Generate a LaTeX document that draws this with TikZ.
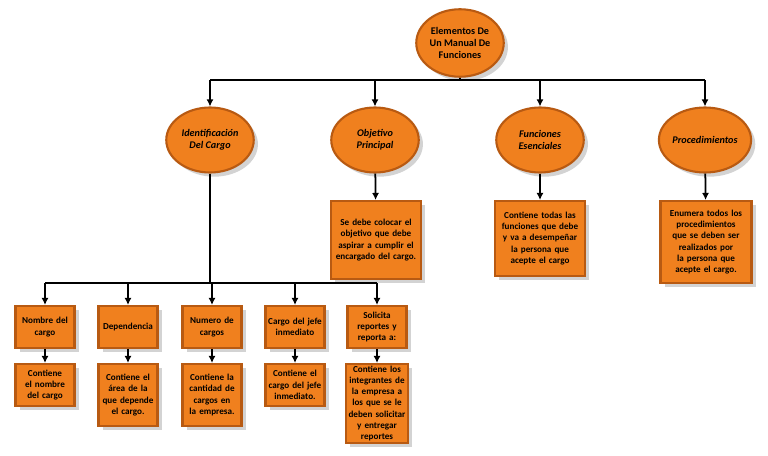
\documentclass[tikz,border=0pt]{standalone}
\usepackage{fontspec}
\setmainfont{Carlito}
\usetikzlibrary{arrows.meta,shapes.geometric,shadows}
\definecolor{naranja}{HTML}{F0801E}
\definecolor{borde}{HTML}{B85A12}
\tikzset{
  elipse/.style={ellipse,fill=naranja,draw=borde,line width=1.2pt,drop shadow={opacity=0.35},
    minimum width=1.75cm,minimum height=1.3cm,inner sep=0pt,align=center,
    font=\fontsize{5.8}{7}\selectfont\bfseries\itshape},
  caja/.style={rectangle,fill=naranja,draw=borde,line width=1.2pt,drop shadow={opacity=0.35},
    align=center,inner sep=1pt,font=\fontsize{5.2}{6.4}\selectfont\bfseries},
  flecha/.style={-{Latex[length=4pt,width=4pt]},line width=1pt},
  linea/.style={line width=1pt}
}
\begin{document}
\begin{tikzpicture}[x=0.02cm,y=-0.02cm]
  \useasboundingbox (0,0) rectangle (768,456);
  % raiz
  \node[elipse,minimum width=1.75cm,minimum height=1.35cm,font=\fontsize{5.8}{7}\selectfont\bfseries] (raiz) at (460,43) {Elementos De\\Un Manual De\\Funciones};
  % segundo nivel
  \node[elipse] (ident) at (210,140) {Identificación\\Del Cargo};
  \node[elipse] (objet) at (375,140) {Objetivo\\Principal};
  \node[elipse] (funci) at (540,140) {Funciones\\Esenciales};
  \node[elipse] (proce) at (705,140) {Procedimientos};
  \coordinate (r) at (460,80);
  \draw[linea] (raiz.south) -- (r);
  \draw[linea] (210,80) -- (705,80);
  \foreach \n in {ident,objet,funci,proce}
    \draw[flecha] (\n.north |- r) -- (\n.north);
  % cajas
  \node[caja,text width=1.72cm,minimum height=1.56cm,anchor=north] (bobj) at (376,200) {Se debe colocar el objetivo que debe aspirar a cumplir el encargado del cargo.};
  \node[caja,text width=1.72cm,minimum height=1.5cm,anchor=north] (bfun) at (540,200) {Contiene todas las funciones que debe y va a desempeñar la persona que acepte el cargo};
  \node[caja,text width=1.75cm,minimum height=1.64cm,anchor=north] (bpro) at (706,200) {Enumera todos los procedimientos que se deben ser realizados por la persona que acepte el cargo.};
  \draw[flecha] (objet) -- (bobj);
  \draw[flecha] (funci) -- (bfun);
  \draw[flecha] (proce) -- (bpro);
  % tercer nivel
  \coordinate (c) at (210,283);
  \draw[linea] (ident.south) -- (c);
  \draw[linea] (45,283) -- (377,283);
  \foreach \x/\n/\t/\h/\d in {45/nom/{Nombre del\\cargo}/0.84/{Contiene el nombre del cargo},
      128/dep/{Dependencia}/0.84/{Contiene el área de la que depende el cargo.},
      212/num/{Numero de\\cargos}/0.84/{Contiene la cantidad de cargos en la empresa.},
      295/jef/{Cargo del jefe\\inmediato}/0.84/{Contiene el cargo del jefe inmediato.},
      377/sol/{Solicita\\reportes y\\reporta a:}/0.84/{Contiene los integrantes de la empresa a los que se le deben solicitar y entregar reportes}} {
    \node[caja,minimum width=1.18cm,text width=1.1cm,minimum height=\h cm,anchor=north] (\n) at (\x,305) {\t};
    \draw[flecha] (\x,283) -- (\n.north);
  }
  \node[caja,text width=1.1cm,minimum width=1.18cm,minimum height=0.84cm,anchor=north] (dnom) at (45,363) {Contiene el nombre del cargo};
  \node[caja,text width=1.1cm,minimum width=1.18cm,minimum height=1.24cm,anchor=north] (ddep) at (128,363) {Contiene el área de la que depende el cargo.};
  \node[caja,text width=1.1cm,minimum width=1.18cm,minimum height=1.24cm,anchor=north] (dnum) at (212,363) {Contiene la cantidad de cargos en la empresa.};
  \node[caja,text width=1.1cm,minimum width=1.18cm,minimum height=0.84cm,anchor=north] (djef) at (295,363) {Contiene el cargo del jefe inmediato.};
  \node[caja,text width=1.16cm,minimum width=1.18cm,minimum height=1.54cm,anchor=north] (dsol) at (377,363) {Contiene los integrantes de la empresa a los que se le deben solicitar y entregar reportes};
  \foreach \a/\b in {nom/dnom,dep/ddep,num/dnum,jef/djef,sol/dsol}
    \draw[flecha] (\a) -- (\b);
\end{tikzpicture}
\end{document}
